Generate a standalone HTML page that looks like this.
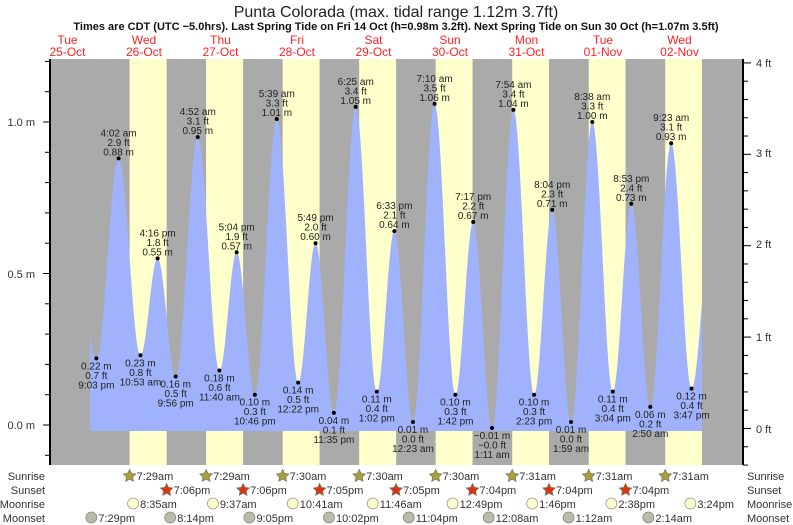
<!DOCTYPE html>
<html><head><meta charset="utf-8"><style>
body{margin:0;background:#fff;}
svg{display:block;font-family:"Liberation Sans",sans-serif;}
</style></head><body>
<svg id="s" width="793" height="525" xmlns="http://www.w3.org/2000/svg">
<rect width="793" height="525" fill="#fff"/>
<text x="396" y="17" font-size="16" text-anchor="middle" fill="#222">Punta Colorada (max. tidal range 1.12m 3.7ft)</text>
<text x="396" y="30" font-size="11" font-weight="bold" text-anchor="middle" fill="#111">Times are CDT (UTC −5.0hrs). Last Spring Tide on Fri 14 Oct (h=0.98m 3.2ft). Next Spring Tide on Sun 30 Oct (h=1.07m 3.5ft)</text>
<g id="plot"></g>
<g font-size="11" fill="#333">
<text x="45" y="480" text-anchor="end">Sunrise</text>
<text x="45" y="494" text-anchor="end">Sunset</text>
<text x="45" y="508" text-anchor="end">Moonrise</text>
<text x="45" y="522" text-anchor="end">Moonset</text>
<text x="747" y="480">Sunrise</text>
<text x="747" y="494">Sunset</text>
<text x="747" y="508">Moonrise</text>
<text x="747" y="522">Moonset</text>
<text x="35" y="126" text-anchor="end">1.0 m</text>
<text x="35" y="278" text-anchor="end">0.5 m</text>
<text x="35" y="429" text-anchor="end">0.0 m</text>
<text x="756" y="67">4 ft</text>
<text x="756" y="157">3 ft</text>
<text x="756" y="248">2 ft</text>
<text x="756" y="341">1 ft</text>
<text x="756" y="433">0 ft</text>
</g>
</svg>
<script>
var NS="http://www.w3.org/2000/svg",P=document.getElementById('plot');
function X(t){return 29.25+t*3.1875}
function Y(h){return 425-h*303}
function el(n,a,txt){var e=document.createElementNS(NS,n);for(var k in a)e.setAttribute(k,a[k]);if(txt!=null)e.textContent=txt;P.appendChild(e);return e}
// background
el('rect',{x:50,y:59,width:693,height:406,fill:'#aaaaaa'});
var sr=[31.48,55.48,79.5,103.5,127.5,151.52,175.52,199.52],ss=[43.1,67.1,91.08,115.08,139.07,163.07,187.07,211.07];
for(var i=0;i<8;i++){var a=X(sr[i]),b=Math.min(X(ss[i]),702);el('rect',{x:a,y:59,width:b-a,height:406,fill:'#ffffcc'});}
// tide
var E=[[15.3,0.5],[21.05,0.22],[28.03,0.88],[34.88,0.23],[40.27,0.55],[45.93,0.16],[52.87,0.95],[59.67,0.18],[65.07,0.57],[70.77,0.10],[77.65,1.01],[84.37,0.14],[89.82,0.60],[95.58,0.04],[102.42,1.05],[109.03,0.11],[114.55,0.64],[120.38,0.01],[127.17,1.06],[133.7,0.10],[139.28,0.67],[145.18,-0.01],[151.9,1.04],[158.38,0.10],[164.07,0.71],[169.98,0.01],[176.63,1.00],[183.07,0.11],[188.88,0.73],[194.83,0.06],[201.38,0.93],[207.78,0.12],[213.8,0.62]];
function H(t){for(var i=0;i<E.length-1;i++){var a=E[i],b=E[i+1];if(t>=a[0]&&t<=b[0]){var f=(1-Math.cos(Math.PI*(t-a[0])/(b[0]-a[0])))/2;return a[1]+(b[1]-a[1])*f;}}return 0.3}
var d='M90 431';for(var x=90;x<=702;x+=0.5){var t=(x-29.25)/3.1875;d+=' L'+x+' '+Y(H(t)).toFixed(2);}d+=' L702 431 Z';
el('path',{d:d,fill:'#a0b2fb'});
// axes
el('line',{x1:50,y1:59,x2:50,y2:465,stroke:'#000','stroke-width':2});
el('line',{x1:743,y1:59,x2:743,y2:465,stroke:'#000','stroke-width':2});
for(var m=-0.1;m<=1.2;m+=0.1){var y=Y(m);var maj=Math.abs(m*2-Math.round(m*2))<0.01;el('line',{x1:maj?43:45,y1:y,x2:50,y2:y,stroke:'#000'});}
for(var f=-0.4;f<=4.01;f+=0.2){var y=428.5-f*91.4;if(y<59)continue;var maj=Math.abs(f-Math.round(f))<0.01;el('line',{x1:743,y1:y,x2:maj?751:748,y2:y,stroke:'#000'});}
// days
var dn=['Tue','Wed','Thu','Fri','Sat','Sun','Mon','Tue','Wed'],dd=['25-Oct','26-Oct','27-Oct','28-Oct','29-Oct','30-Oct','31-Oct','01-Nov','02-Nov'];
for(var i=0;i<9;i++){var x=X(12+24*i);el('text',{x:x,y:44,'font-size':12,'text-anchor':'middle',fill:'#f22'},dn[i]);el('text',{x:x,y:56,'font-size':12,'text-anchor':'middle',fill:'#f22'},dd[i]);}
// tide labels
var L=[['9:03 pm','0.7 ft','0.22 m'],['4:02 am','2.9 ft','0.88 m'],['10:53 am','0.8 ft','0.23 m'],['4:16 pm','1.8 ft','0.55 m'],['9:56 pm','0.5 ft','0.16 m'],['4:52 am','3.1 ft','0.95 m'],['11:40 am','0.6 ft','0.18 m'],['5:04 pm','1.9 ft','0.57 m'],['10:46 pm','0.3 ft','0.10 m'],['5:39 am','3.3 ft','1.01 m'],['12:22 pm','0.5 ft','0.14 m'],['5:49 pm','2.0 ft','0.60 m'],['11:35 pm','0.1 ft','0.04 m'],['6:25 am','3.4 ft','1.05 m'],['1:02 pm','0.4 ft','0.11 m'],['6:33 pm','2.1 ft','0.64 m'],['12:23 am','0.0 ft','0.01 m'],['7:10 am','3.5 ft','1.06 m'],['1:42 pm','0.3 ft','0.10 m'],['7:17 pm','2.2 ft','0.67 m'],['1:11 am','−0.0 ft','−0.01 m'],['7:54 am','3.4 ft','1.04 m'],['2:23 pm','0.3 ft','0.10 m'],['8:04 pm','2.3 ft','0.71 m'],['1:59 am','0.0 ft','0.01 m'],['8:38 am','3.3 ft','1.00 m'],['3:04 pm','0.4 ft','0.11 m'],['8:53 pm','2.4 ft','0.73 m'],['2:50 am','0.2 ft','0.06 m'],['9:23 am','3.1 ft','0.93 m'],['3:47 pm','0.4 ft','0.12 m']];
for(var i=0;i<L.length;i++){var e=E[i+1],x=X(e[0]),y=Y(e[1]);var hi=i%2==1;
el('circle',{cx:x,cy:y,r:2,fill:'#000'});
var o={'font-size':10,'text-anchor':'middle',fill:'#222'};
if(hi){o.x=x;o.y=y-22;el('text',o,L[i][0]);o.y=y-12.5;el('text',o,L[i][1]);o.y=y-3;el('text',o,L[i][2]);}
else{o.x=x;o.y=y+11;el('text',o,L[i][2]);o.y=y+20.5;el('text',o,L[i][1]);o.y=y+30;el('text',o,L[i][0]);}}
// sun/moon
function star(cx,cy,fill){var p='';for(var k=0;k<10;k++){var r=k%2?3.2:6.5,a=-Math.PI/2+k*Math.PI/5;p+=(cx+r*Math.cos(a)).toFixed(1)+','+(cy+r*Math.sin(a)).toFixed(1)+' ';}el('polygon',{points:p,fill:fill,stroke:'#776','stroke-width':0.8});}
var srt=['7:29am','7:29am','7:30am','7:30am','7:30am','7:31am','7:31am','7:31am'],sst=['7:06pm','7:06pm','7:05pm','7:05pm','7:04pm','7:04pm','7:04pm'];
for(var i=0;i<8;i++){var x=X(sr[i]);star(x,476,'#aaa035');el('text',{x:x+7,y:480,'font-size':11,fill:'#333'},srt[i]);}
for(var i=0;i<7;i++){var x=X(ss[i]);star(x,490,'#dd3311');el('text',{x:x+7,y:494,'font-size':11,fill:'#333'},sst[i]);}
var mr=[[32.58,'8:35am'],[57.62,'9:37am'],[82.68,'10:41am'],[107.77,'11:46am'],[132.82,'12:49pm'],[157.77,'1:46pm'],[182.63,'2:38pm'],[207.4,'3:24pm']];
for(var i=0;i<8;i++){var x=X(mr[i][0]);el('circle',{cx:x,cy:503.5,r:5.5,fill:'#ffffcc',stroke:'#999','stroke-width':0.8});el('text',{x:x+7,y:508,'font-size':11,fill:'#333'},mr[i][1]);}
var ms=[[19.48,'7:29pm'],[44.23,'8:14pm'],[69.08,'9:05pm'],[94.03,'10:02pm'],[119.07,'11:04pm'],[144.13,'12:08am'],[169.2,'1:12am'],[194.23,'2:14am']];
for(var i=0;i<8;i++){var x=X(ms[i][0]);el('circle',{cx:x,cy:517.5,r:5.5,fill:'#bbbbaa',stroke:'#888','stroke-width':0.8});el('text',{x:x+7,y:522,'font-size':11,fill:'#333'},ms[i][1]);}
</script>
</body></html>
